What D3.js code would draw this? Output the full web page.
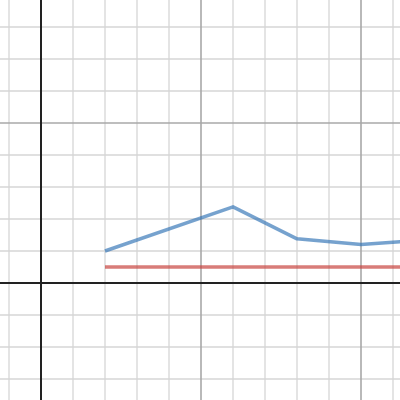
<!DOCTYPE html>
<html>
<head>
<meta charset="utf-8">
<script src="https://cdn.jsdelivr.net/npm/d3@7"></script>
<style>
  body { margin: 0; background: #fff; }
</style>
</head>
<body>
<div id="graph"></div>
<script>
// data
var blueX = [2, 6, 8, 10, 12];
var blueY = [1.0, 2.38, 1.38, 1.2, 1.34];
var redX = [2, 12];
var redY = [0.5, 0.5];

var width = 400, height = 400;

// 32px per unit, origin at (41, 283)
var x = d3.scaleLinear().domain([-41 / 32, 359 / 32]).range([0, width]);
var y = d3.scaleLinear().domain([-117 / 32, 283 / 32]).range([height, 0]);

var svg = d3.select("#graph").append("svg")
    .attr("width", width)
    .attr("height", height);

svg.append("rect").attr("width", width).attr("height", height).attr("fill", "#fff");

// minor grid
var xs = d3.range(-1, 12), ys = d3.range(-3, 9);
svg.append("g").selectAll("line")
  .data(xs.filter(function(d) { return d % 5 != 0; }))
  .enter().append("line")
    .attr("x1", function(d) { return x(d); })
    .attr("x2", function(d) { return x(d); })
    .attr("y1", 0).attr("y2", height)
    .attr("stroke", "#d6d6d6").attr("stroke-width", 1.3);
svg.append("g").selectAll("line")
  .data(ys.filter(function(d) { return d % 5 != 0; }))
  .enter().append("line")
    .attr("y1", function(d) { return y(d); })
    .attr("y2", function(d) { return y(d); })
    .attr("x1", 0).attr("x2", width)
    .attr("stroke", "#d6d6d6").attr("stroke-width", 1.3);

// major grid
svg.append("g").selectAll("line")
  .data(xs.filter(function(d) { return d % 5 == 0 && d != 0; }))
  .enter().append("line")
    .attr("x1", function(d) { return x(d); })
    .attr("x2", function(d) { return x(d); })
    .attr("y1", 0).attr("y2", height)
    .attr("stroke", "#a8a8a8").attr("stroke-width", 1.6);
svg.append("g").selectAll("line")
  .data(ys.filter(function(d) { return d % 5 == 0 && d != 0; }))
  .enter().append("line")
    .attr("y1", function(d) { return y(d); })
    .attr("y2", function(d) { return y(d); })
    .attr("x1", 0).attr("x2", width)
    .attr("stroke", "#a8a8a8").attr("stroke-width", 1.6);

// axes
svg.append("line")
    .attr("x1", x(0)).attr("x2", x(0)).attr("y1", 0).attr("y2", height)
    .attr("stroke", "#222").attr("stroke-width", 2);
svg.append("line")
    .attr("x1", 0).attr("x2", width).attr("y1", y(0)).attr("y2", y(0))
    .attr("stroke", "#222").attr("stroke-width", 2);

var line = d3.line()
    .x(function(d) { return x(d[0]); })
    .y(function(d) { return y(d[1]); });

svg.append("path")
    .datum(d3.zip(redX, redY))
    .attr("d", line)
    .attr("fill", "none")
    .attr("stroke", "#c74440").attr("stroke-opacity", 0.7)
    .attr("stroke-width", 3.5);

svg.append("path")
    .datum(d3.zip(blueX, blueY))
    .attr("d", line)
    .attr("fill", "none")
    .attr("stroke", "#2d70b3").attr("stroke-opacity", 0.65)
    .attr("stroke-width", 3.5)
    .attr("stroke-linejoin", "round");
</script>
</body>
</html>
